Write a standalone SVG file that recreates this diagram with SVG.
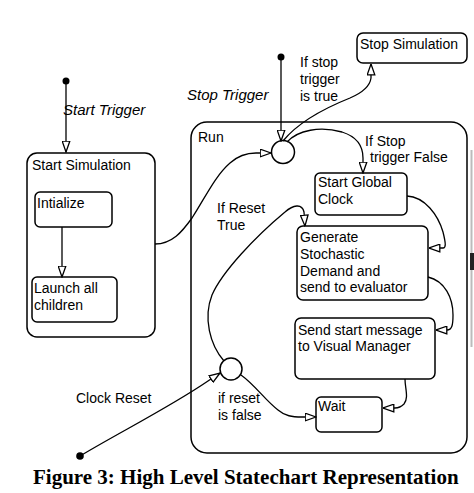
<svg xmlns="http://www.w3.org/2000/svg" width="474" height="493" viewBox="0 0 474 493">
<style>
  .box { fill: #fff; stroke: #000; stroke-width: 1.5; }
  .t { font-family: "Liberation Sans", Arial, sans-serif; font-size: 14px; fill: #000; }
  .it { font-family: "Liberation Sans", Arial, sans-serif; font-size: 15px; font-style: italic; fill: #000; }
  .cap { font-family: "Liberation Serif", "Times New Roman", serif; font-size: 21px; font-weight: bold; fill: #000; }
  .c { fill: none; stroke: #000; stroke-width: 1.3; }
  .arr { fill: none; stroke: #000; stroke-width: 1.3; marker-end: url(#open); }
  .dot { fill: #000; }
</style>
<defs>
  <marker id="open" markerUnits="userSpaceOnUse" viewBox="0 0 12 9" markerWidth="12" markerHeight="9" refX="11.5" refY="4.5" orient="auto">
    <path d="M0.7,0.7 L11.5,4.5 L0.7,8.3 Z" fill="#fff" stroke="#000" stroke-width="1.3"/>
  </marker>
</defs>
<rect width="474" height="493" fill="#fff"/>

<!-- scan artifact strip on the right edge -->
<rect x="470.5" y="150" width="2" height="197" fill="#bbb"/>
<rect x="470" y="253" width="4" height="17" fill="#222"/>

<g id="run">
  <rect class="box" x="191" y="122" width="276" height="331" rx="16"/>
  <text class="t" x="198" y="142">Run</text>
</g>

<g id="start-simulation">
  <rect class="box" x="27" y="153" width="128" height="184" rx="10"/>
  <text class="t" x="32" y="170">Start Simulation</text>
</g>
<g id="initialize">
  <rect class="box" x="35" y="192" width="77" height="35" rx="5"/>
  <text class="t" x="37" y="208">Intialize</text>
</g>
<g id="launch">
  <rect class="box" x="32" y="277" width="85" height="45" rx="5"/>
  <text class="t" x="34" y="293">Launch all</text>
  <text class="t" x="34" y="310">children</text>
</g>
<g id="stop-simulation">
  <rect class="box" x="357" y="33" width="110" height="30" rx="6"/>
  <text class="t" x="360" y="49">Stop Simulation</text>
</g>
<g id="start-global-clock">
  <rect class="box" x="315" y="173" width="92" height="42" rx="5"/>
  <text class="t" x="318" y="187">Start Global</text>
  <text class="t" x="318" y="204">Clock</text>
</g>
<g id="generate">
  <rect class="box" x="297" y="226" width="131" height="74" rx="6"/>
  <text class="t" x="300" y="242">Generate</text>
  <text class="t" x="300" y="259">Stochastic</text>
  <text class="t" x="300" y="276">Demand and</text>
  <text class="t" x="300" y="292">send to evaluator</text>
</g>
<g id="send-start">
  <rect class="box" x="295" y="318" width="140" height="61" rx="6"/>
  <text class="t" x="298" y="335">Send start message</text>
  <text class="t" x="298" y="351">to Visual Manager</text>
</g>
<g id="wait">
  <rect class="box" x="316" y="397" width="66" height="35" rx="5"/>
  <text class="t" x="318" y="411">Wait</text>
</g>
<g id="junction-top">
  <circle class="box" cx="283" cy="152" r="11.5"/>
</g>
<g id="junction-bottom">
  <circle class="box" cx="231" cy="369" r="11"/>
</g>
<g id="initial-start"><circle class="dot" cx="66" cy="81" r="3.5"/></g>
<g id="initial-stop"><circle class="dot" cx="281" cy="57" r="3.5"/></g>
<g id="initial-clock"><circle class="dot" cx="80" cy="456" r="3.8"/></g>

<g id="connectors">
  <path class="arr" d="M66,81 L66,152"/>
  <path class="arr" d="M62,227 L62,277"/>
  <path class="arr" d="M281,57 L281,141"/>
  <path class="arr" d="M283,141 C300,120 330,106 350,98 C364,92 370,86 371,78 L371,64"/>
  <path class="arr" d="M287,142 C298,130 320,126 342,132 C358,137 363,148 363,158 L363,173"/>
  <path class="arr" d="M155,244 C172,244 182,232 192,218 C205,198 215,176 230,163 C240,154 250,153 256,153 L271,153"/>
  <path class="arr" d="M407,196 C425,197 438,215 443,232 C446,244 446,248 443,248 L429,248"/>
  <path class="arr" d="M428,277 C445,281 453,298 453,315 C453,325 452,330 447,330 L436,330"/>
  <path class="arr" d="M405,379 C405,388 409,398 404,404 C401,407 398,408 395,408 L383,408"/>
  <path class="arr" d="M224,361 C210,345 203,318 212,295 C222,272 255,237 285,212 C293,205 302,203 304,212 L305,226"/>
  <path class="arr" d="M241,375 C255,385 265,400 278,410 C285,416 292,417 302,417 L316,417"/>
  <path class="arr" d="M80,456 C120,432 170,407 208,381 L220,373"/>
</g>

<g id="labels">
  <text class="it" x="63" y="115">Start Trigger</text>
  <text class="it" x="187" y="100">Stop Trigger</text>
  <text class="t" x="300" y="67">If stop</text>
  <text class="t" x="300" y="84">trigger</text>
  <text class="t" x="300" y="101">is true</text>
  <text class="t" x="365" y="146">If Stop</text>
  <text class="t" x="370" y="162">trigger False</text>
  <text class="t" x="217" y="213">If Reset</text>
  <text class="t" x="217" y="230">True</text>
  <text class="t" x="218" y="403">if reset</text>
  <text class="t" x="218" y="420">is false</text>
  <text class="t" x="76" y="403">Clock Reset</text>
</g>

<text class="cap" x="33" y="484">Figure 3: High Level Statechart Representation</text>
</svg>
